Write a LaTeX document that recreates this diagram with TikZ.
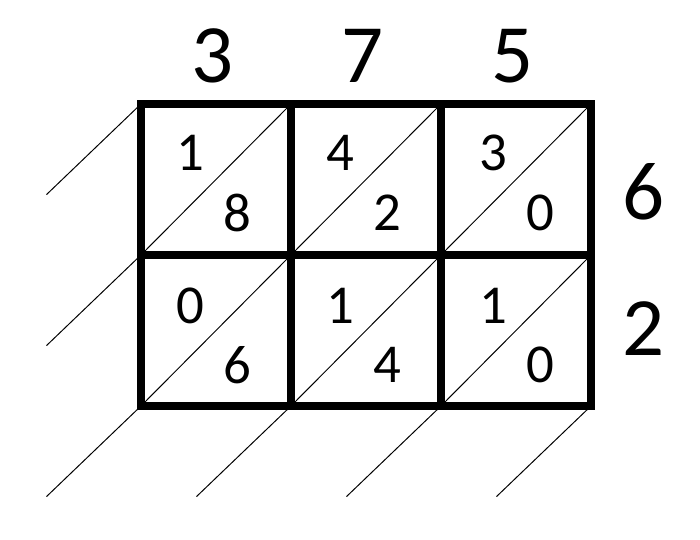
\documentclass[tikz,border=0pt]{standalone}
\usepackage{fontspec}
\setmainfont{Carlito}
\begin{document}
\begin{tikzpicture}[x=3.75cm, y=3.775cm,
    grid/.style={line width=5.7pt},
    diag/.style={line width=0.7pt},
    bigdigit/.style={font=\fontsize{59}{59}\selectfont},
    smalldigit/.style={font=\fontsize{39}{39}\selectfont}]
      \useasboundingbox (-0.94, -0.8874) rectangle (3.7267, 2.6887);

      % diagonals, with their tails below the grid
      \draw[diag] (-0.63, 1.4) -- (0, 2);
      \draw[diag] (-0.63, 0.4) -- (0, 1) -- (1, 2);
      \draw[diag] (-0.63, -0.6) -- (0, 0) -- (2, 2);
      \draw[diag] (0.37, -0.6) -- (1, 0) -- (3, 2);
      \draw[diag] (1.37, -0.6) -- (2, 0) -- (3, 1);
      \draw[diag] (2.37, -0.6) -- (3, 0);

      % the grid
      \draw[grid] (0, 0) rectangle (3, 2);
      \draw[grid] (0, 1) -- (3, 1);
      \draw[grid] (1, 0) -- (1, 2);
      \draw[grid] (2, 0) -- (2, 2);

      % factors
      \node[bigdigit] (top3) at (0.48, 2.318) {3};
      \node[bigdigit] (top7) at (1.48, 2.318) {7};
      \node[bigdigit] (top5) at (2.48, 2.318) {5};
      \node[bigdigit] (side6) at (3.353, 1.417) {6};
      \node[bigdigit] (side2) at (3.353, 0.51) {2};

      % partial products
      \node[smalldigit] (a1) at (0.33, 1.675) {1};
      \node[smalldigit] (b1) at (0.645, 1.28) {8};
      \node[smalldigit] (a2) at (1.33, 1.675) {4};
      \node[smalldigit] (b2) at (1.645, 1.28) {2};
      \node[smalldigit] (a3) at (2.35, 1.675) {3};
      \node[smalldigit] (b3) at (2.665, 1.28) {0};

      \node[smalldigit] (c1) at (0.33, 0.665) {0};
      \node[smalldigit] (d1) at (0.645, 0.27) {6};
      \node[smalldigit] (c2) at (1.33, 0.665) {1};
      \node[smalldigit] (d2) at (1.645, 0.27) {4};
      \node[smalldigit] (c3) at (2.35, 0.665) {1};
      \node[smalldigit] (d3) at (2.665, 0.27) {0};
\end{tikzpicture}
\end{document}
